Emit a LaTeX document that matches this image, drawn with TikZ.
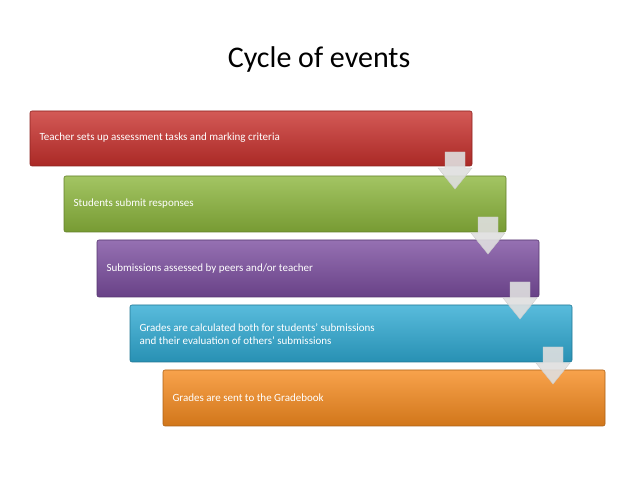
\documentclass[tikz,border=0pt]{standalone}
\usepackage{fontspec}
\setmainfont{Carlito}
\begin{document}
\begin{tikzpicture}[x=1pt,y=-1pt,
  stepbox/.style={rounded corners=2pt, draw=#1!70!black, line width=0.6pt, top color=#1!80!white, bottom color=#1!85!black},
  lbl/.style={anchor=west, text=white, font=\fontsize{11}{13}\selectfont, align=left},
  darrow/.style={fill=gray!25, draw=gray!40, fill opacity=0.9}]
\useasboundingbox (0,0) rectangle (638,478);
\definecolor{cred}{HTML}{C8302C}
\definecolor{cgreen}{HTML}{8CB63C}
\definecolor{cpurple}{HTML}{7B4D9F}
\definecolor{ccyan}{HTML}{2FAAD3}
\definecolor{corange}{HTML}{F68B1F}
\node (title) at (319,60) {\fontsize{30}{34}\selectfont Cycle of events};
\shade[stepbox=cred] (30,111) rectangle (472,166);
\node[lbl] (t1) at (36,138) {Teacher sets up assessment tasks and marking criteria};
\foreach \x/\y in {455/152} {}
\newcommand{\dnarrow}[2]{\fill[darrow] (#1-10,#2) -- (#1+10,#2) -- (#1+10,#2+16) -- (#1+17,#2+16) -- (#1,#2+37) -- (#1-17,#2+16) -- (#1-10,#2+16) -- cycle;}
\shade[stepbox=cgreen] (64,176) rectangle (506,232);
\node[lbl] (t2) at (70,204) {Students submit responses};
\dnarrow{455}{152}
\shade[stepbox=cpurple] (97,240) rectangle (539,297);
\node[lbl] (t3) at (103,269) {Submissions assessed by peers and/or teacher};
\dnarrow{488}{217}
\shade[stepbox=ccyan] (130,305) rectangle (572,362);
\node[lbl] (t4) at (136,334) {Grades are calculated both for students’ submissions\\and their evaluation of others’ submissions};
\dnarrow{520}{282}
\shade[stepbox=corange] (163,370) rectangle (605,426);
\node[lbl] (t5) at (169,398) {Grades are sent to the Gradebook};
\dnarrow{553}{347}
\end{tikzpicture}
\end{document}
